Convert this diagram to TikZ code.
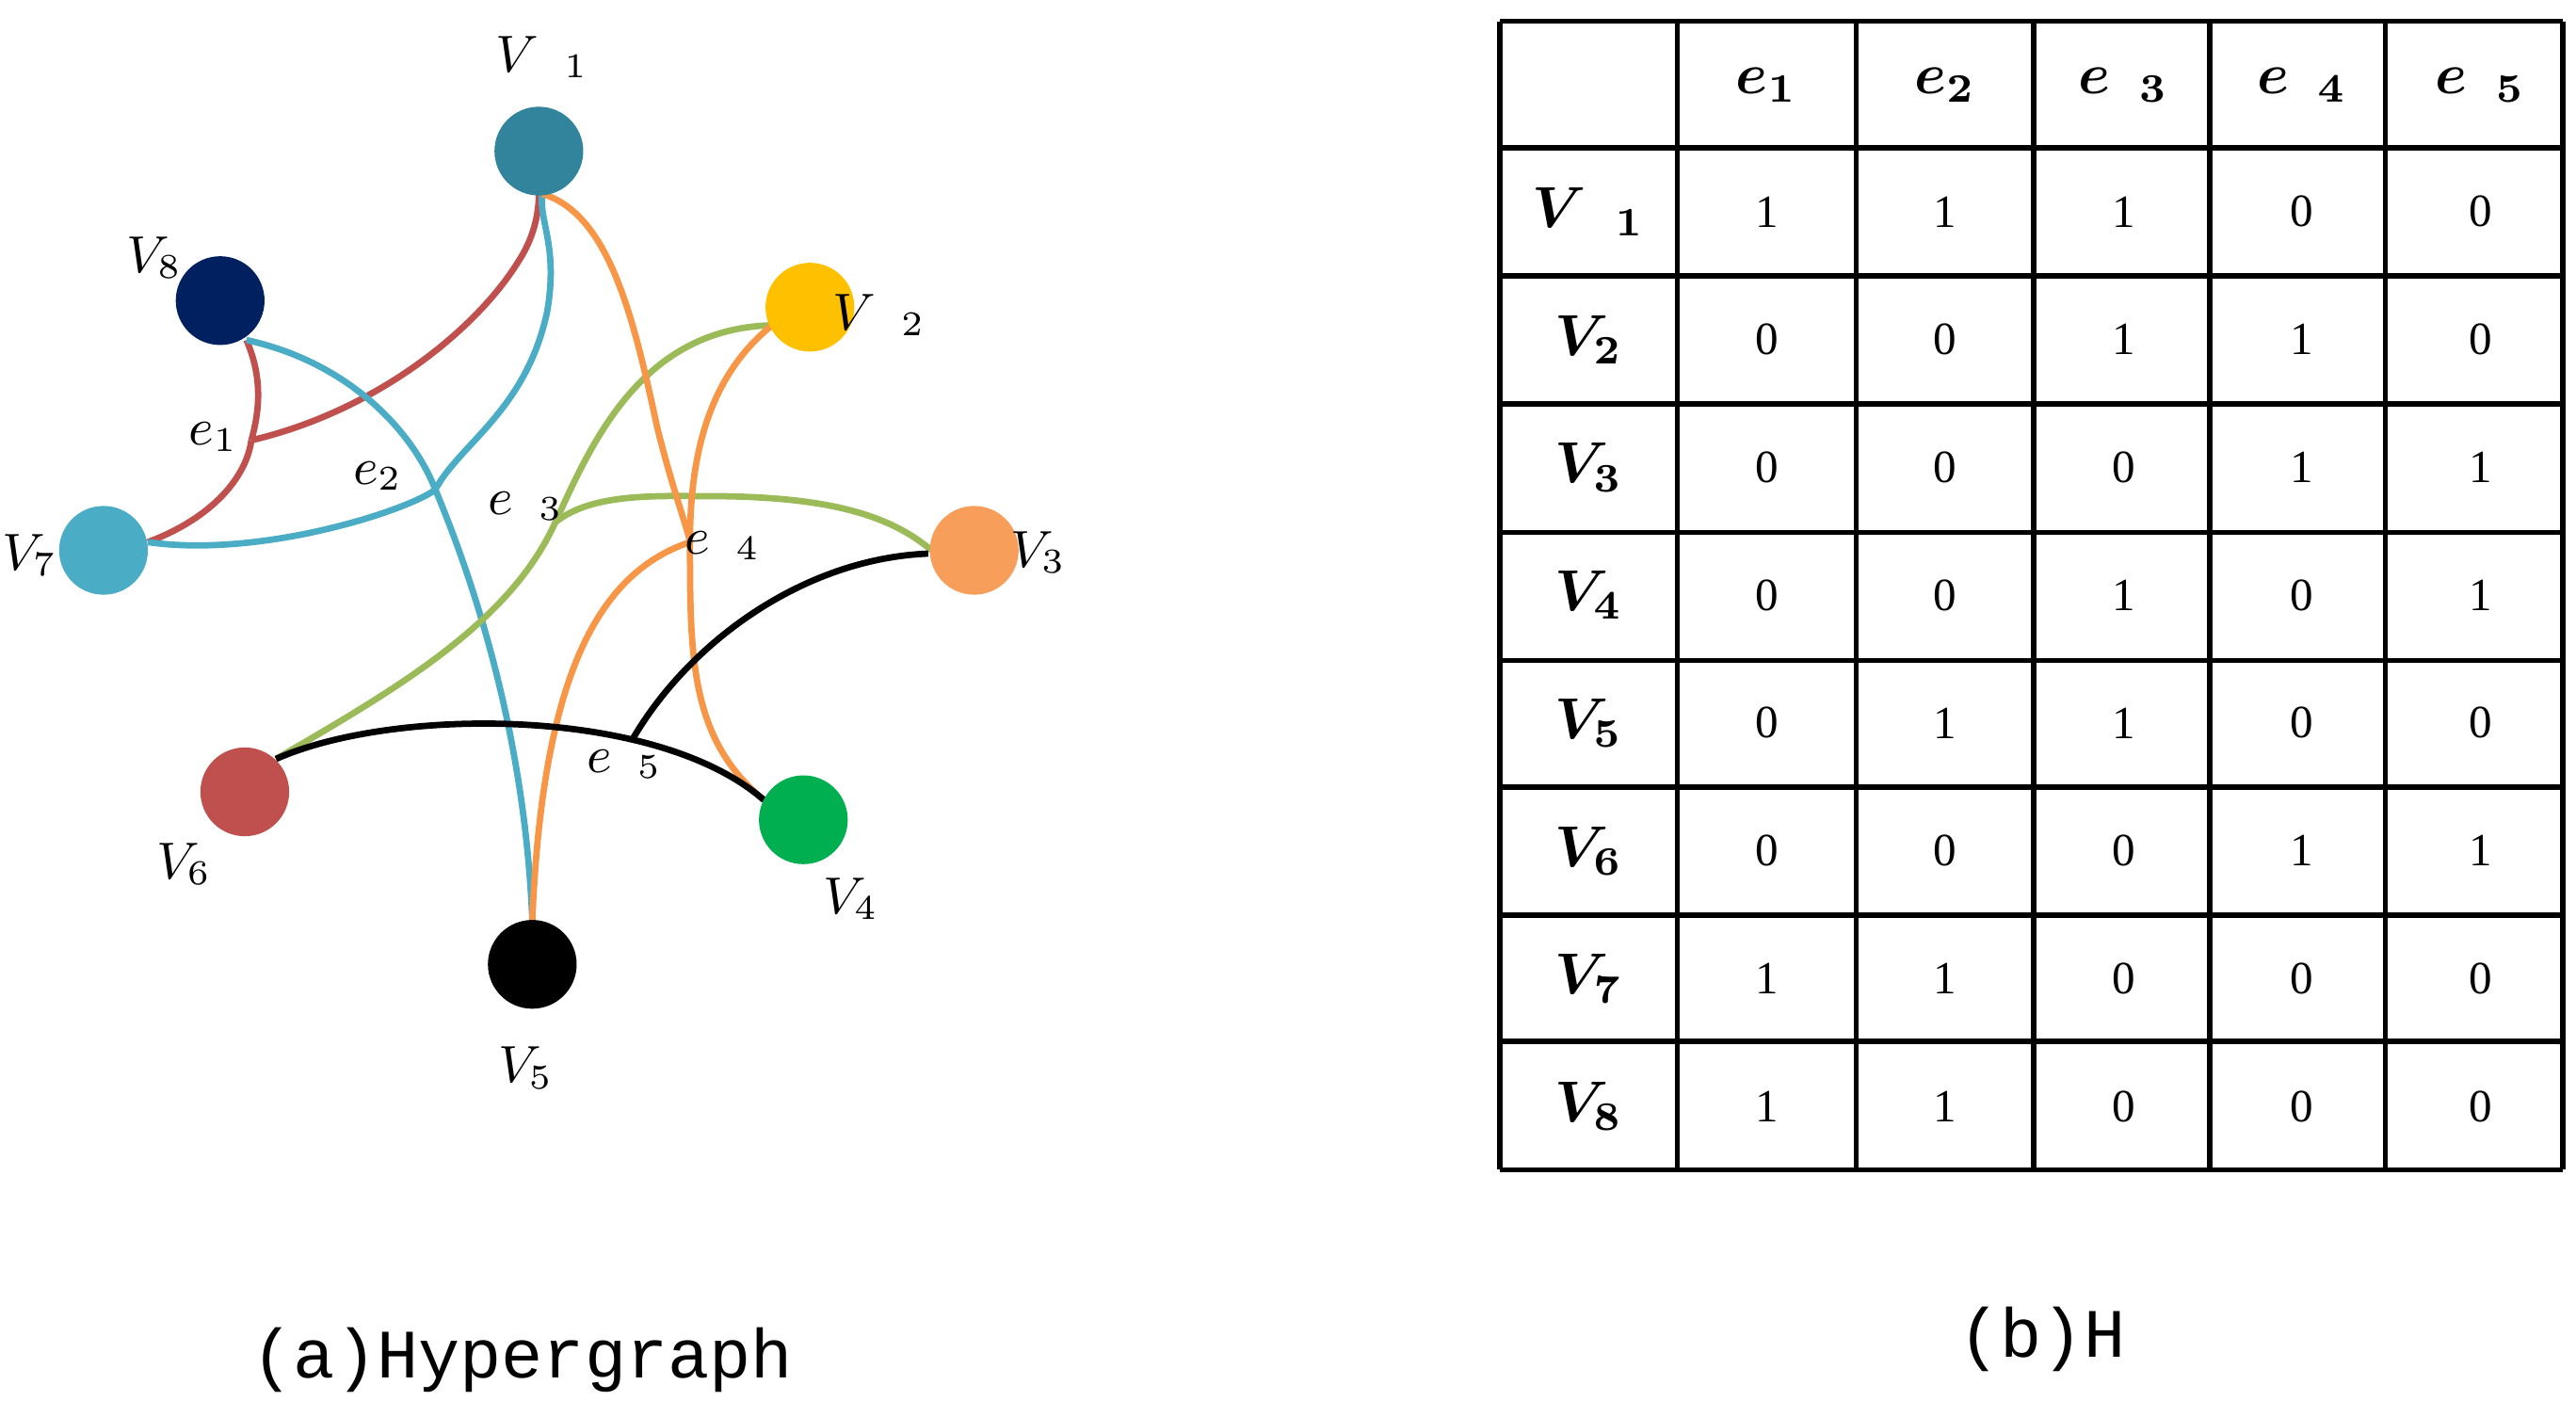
\documentclass[tikz,border=0pt]{standalone}
\usepackage{amsmath,amssymb}
\usepackage{fontspec}
\setmainfont{Liberation Serif}
\newfontfamily\capfont{Liberation Mono}
\begin{document}
\begin{tikzpicture}[x=0.01cm,y=-0.01cm,
  vert/.style={circle,minimum size=0.54cm,inner sep=0pt},
  lab/.style={font=\fontsize{9}{10}\selectfont\itshape,inner sep=0pt},
  ed/.style={line width=1.1pt},
  cell/.style={font=\fontsize{8}{9}\selectfont,inner sep=0pt},
  hd/.style={font=\fontsize{10}{11}\selectfont\bfseries\itshape,inner sep=0pt}]
\useasboundingbox (0,0) rectangle (1568,862);
\definecolor{c1}{HTML}{31849B}\definecolor{c2}{HTML}{FFC000}
\definecolor{c3}{HTML}{F79F5A}\definecolor{c4}{HTML}{00B050}
\definecolor{c5}{HTML}{000000}\definecolor{c6}{HTML}{C0504D}
\definecolor{c7}{HTML}{4BACC6}\definecolor{c8}{HTML}{002060}
\definecolor{red1}{HTML}{C0504D}\definecolor{blu}{HTML}{4BACC6}
\definecolor{grn}{HTML}{9BBB59}\definecolor{org}{HTML}{F79646}
% edges
\coordinate (j1) at (153,268); \coordinate (j2) at (265,298);
\coordinate (j3) at (338,318); \coordinate (j4) at (420,330);
\coordinate (j5) at (385,450);
\draw[ed,red1] (150,207) .. controls (160,230) and (158,250) .. (j1);
\draw[ed,red1] (90,330) .. controls (130,315) and (150,290) .. (j1);
\draw[ed,red1] (j1) .. controls (230,250) and (290,200) .. (315,160) .. controls (325,145) and (328,130) .. (328,118);
\draw[ed,blu] (150,207) .. controls (210,220) and (250,260) .. (j2) .. controls (295,370) and (320,460) .. (324,560);
\draw[ed,blu] (90,330) .. controls (160,340) and (250,310) .. (j2);
\draw[ed,blu] (j2) .. controls (280,270) and (320,250) .. (333,190) .. controls (340,150) and (328,135) .. (330,118);
\draw[ed,grn] (168,462) .. controls (240,420) and (310,380) .. (j3);
\draw[ed,grn] (j3) .. controls (360,270) and (390,200) .. (470,198);
\draw[ed,grn] (j3) .. controls (360,300) and (400,302) .. (430,302) .. controls (500,302) and (540,312) .. (567,335);
\draw[ed,org] (330,118) .. controls (370,130) and (385,190) .. (400,260) .. controls (410,300) and (418,320) .. (j4);
\draw[ed,org] (j4) .. controls (420,400) and (420,450) .. (465,487);
\draw[ed,org] (470,198) .. controls (430,230) and (420,280) .. (j4);
\draw[ed,org] (j4) .. controls (360,350) and (330,420) .. (324,560);
\draw[ed,black] (168,462) .. controls (240,430) and (400,430) .. (465,487);
\draw[ed,black] (j5) .. controls (420,390) and (490,340) .. (565,337);
\node[vert,fill=c1] (v1) at (328,92) {};
\node[vert,fill=c2] (v2) at (493,187) {};
\node[vert,fill=c3] (v3) at (593,335) {};
\node[vert,fill=c4] (v4) at (489,499) {};
\node[vert,fill=c5] (v5) at (324,587) {};
\node[vert,fill=c6] (v6) at (149,482) {};
\node[vert,fill=c7] (v7) at (63,335) {};
\node[vert,fill=c8] (v8) at (134,183) {};
% labels
\node[lab] (l1) at (330,35) {$V\ \ _1$};
\node[lab] (l2) at (535,192) {$V\ \ _2$};
\node[lab] (l3) at (632,336) {$V_3$};
\node[lab] (l4) at (518,547) {$V_4$};
\node[lab] (l5) at (320,650) {$V_5$};
\node[lab] (l6) at (112,526) {$V_6$};
\node[lab] (l7) at (18,338) {$V_7$};
\node[lab] (l8) at (94,157) {$V_8$};
\node[lab] (le1) at (130,266) {$e_1$};
\node[lab] (le2) at (230,290) {$e_2$};
\node[lab] (le3) at (320,308) {$e\ \ _3$};
\node[lab] (le4) at (440,332) {$e\ \ _4$};
\node[lab] (le5) at (380,465) {$e\ \ _5$};
\node[font=\capfont\fontsize{12}{14}\selectfont,inner sep=0pt] (ca) at (318,828) {(a)Hypergraph};
\node[font=\capfont\fontsize{12}{14}\selectfont,inner sep=0pt] (cb) at (1243,815) {(b)H};
% table
\foreach \x in {913,1021,1130,1238,1345,1452,1560} \draw[line width=0.9pt] (\x,13) -- (\x,712);
\foreach \y in {13,90,168,246,324,402,479,557,634,712} \draw[line width=0.9pt] (913,\y) -- (1560,\y);
\foreach \t [count=\i] in {{e_1},{e_2},{e\ \ _3},{e\ \ _4},{e\ \ _5}} {
  \pgfmathsetmacro{\cx}{1021+108.6*(\i-0.5)}
  \node[hd] (h\i) at (\cx,52) {$\boldsymbol{\t}$};}
\foreach \t [count=\j] in {{V\ \ _1},{V_2},{V_3},{V_4},{V_5},{V_6},{V_7},{V_8}} {
  \pgfmathsetmacro{\cy}{90+77.8*(\j-0.5)}
  \node[hd] (r\j) at (967,\cy) {$\boldsymbol{\t}$};}
\foreach \row [count=\j] in {{1,1,1,0,0},{0,0,1,1,0},{0,0,0,1,1},{0,0,1,0,1},{0,1,1,0,0},{0,0,0,1,1},{1,1,0,0,0},{1,1,0,0,0}} {
  \foreach \v [count=\i] in \row {
    \pgfmathsetmacro{\cx}{1021+108.6*(\i-0.5)}
    \pgfmathsetmacro{\cy}{90+77.8*(\j-0.5)}
    \node[cell] (m\j\i) at (\cx,\cy) {\v};}}
\end{tikzpicture}
\end{document}
